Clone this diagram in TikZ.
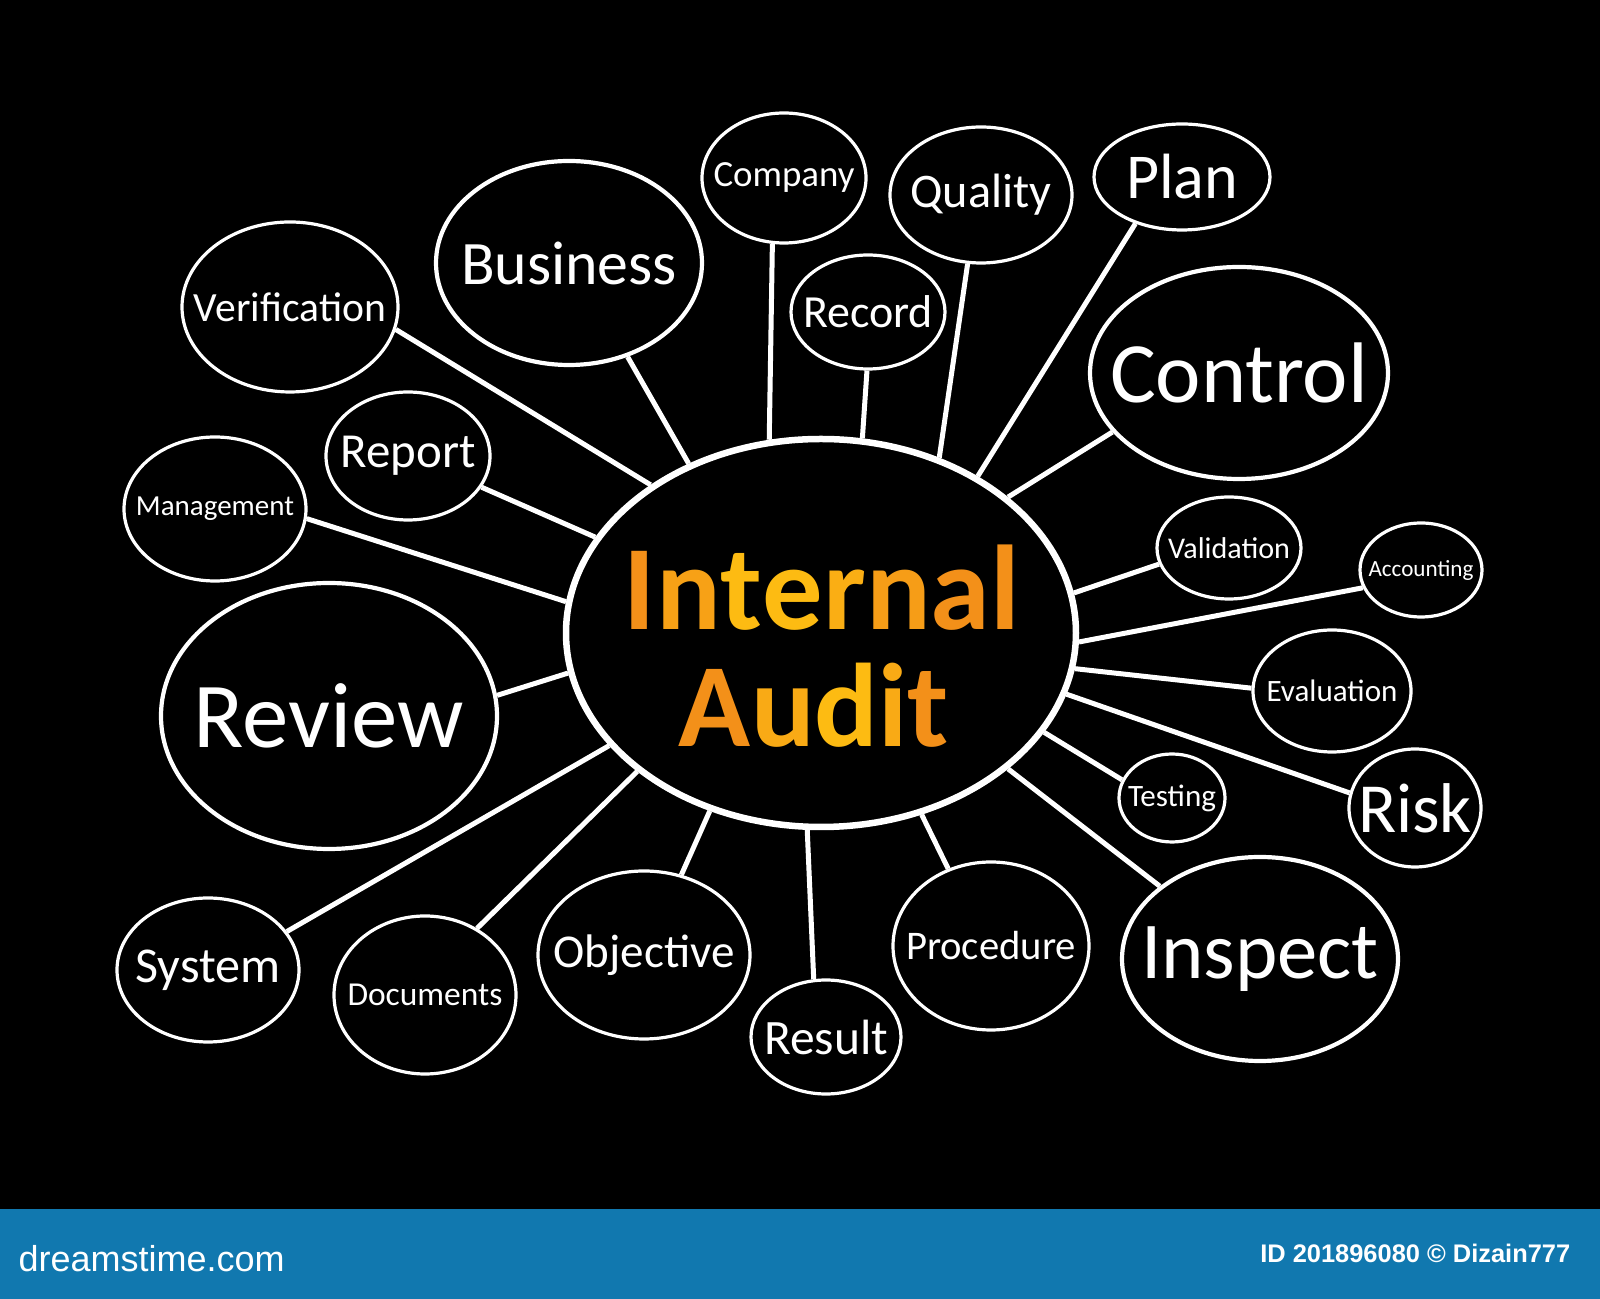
\documentclass[tikz,border=0pt]{standalone}
\usepackage{fontspec}
\setmainfont{Carlito}
\newfontfamily\barfont{Liberation Sans}
\usepackage{graphicx}
\usetikzlibrary{shapes.geometric}
\definecolor{barblue}{HTML}{1178AF}
\definecolor{ora}{HTML}{F39019}
\definecolor{yel}{HTML}{FDBB12}
\tikzset{
  bub/.style={ellipse, draw=white, line width=0.32mm, fill=black, inner sep=0pt},
  bigbub/.style={bub, line width=0.42mm},
  hub/.style={bub, line width=0.65mm},
  txt/.style={text=white, inner sep=0pt},
  link/.style={draw=white, line width=0.5mm},
}
\begin{document}
\begin{tikzpicture}[x=0.1mm, y=-0.1mm]
\useasboundingbox (0,0) rectangle (1600,1299);
\fill[black] (0,0) rectangle (1600,1209);
\fill[barblue] (0,1209) rectangle (1600,1299);

% hub
\node[hub, minimum width=51mm, minimum height=38.8mm] (c) at (821,633) {};

% outer bubbles
\node[bub, minimum width=21.6mm, minimum height=17mm] (verification) at (290,307) {};
\node[bigbub, minimum width=26.6mm, minimum height=20.4mm] (business) at (569,263) {};
\node[bub, minimum width=16.4mm, minimum height=13mm] (company) at (784,178) {};
\node[bub, minimum width=15.4mm, minimum height=11.4mm] (record) at (868,312) {};
\node[bub, minimum width=18.2mm, minimum height=13.6mm] (quality) at (981,195) {};
\node[bub, minimum width=17.6mm, minimum height=10.6mm] (plan) at (1182,177) {};
\node[bigbub, minimum width=29.8mm, minimum height=21.2mm] (control) at (1239,373) {};
\node[bub, minimum width=16.4mm, minimum height=12.8mm] (report) at (408,456) {};
\node[bub, minimum width=18.2mm, minimum height=14.4mm] (management) at (215,509) {};
\node[bigbub, minimum width=33.6mm, minimum height=26.6mm] (review) at (329,716) {};
\node[bub, minimum width=14.4mm, minimum height=10.2mm] (validation) at (1229,548) {};
\node[bub, minimum width=12.2mm, minimum height=9.4mm] (accounting) at (1421,570) {};
\node[bub, minimum width=15.8mm, minimum height=12.2mm] (evaluation) at (1332,691) {};
\node[bub, minimum width=10.6mm, minimum height=8.8mm] (testing) at (1172,798) {};
\node[bub, minimum width=13.2mm, minimum height=11.8mm] (risk) at (1415,808) {};
\node[bigbub, minimum width=27.6mm, minimum height=20.4mm] (inspect) at (1260,959) {};
\node[bub, minimum width=19.6mm, minimum height=16.8mm] (procedure) at (991,946) {};
\node[bub, minimum width=15mm, minimum height=11.4mm] (result) at (826,1037) {};
\node[bub, minimum width=21.2mm, minimum height=16.8mm] (objective) at (644,955) {};
\node[bub, minimum width=18.2mm, minimum height=15.8mm] (documents) at (425,995) {};
\node[bub, minimum width=18.2mm, minimum height=14.4mm] (system) at (208,970) {};

% connectors
\draw[link] (company.-100) -- (c.105);
\draw[link] (record.-91) -- (c.78);
\draw[link] (quality.-101) -- (c.56);
\draw[link] (plan.-135) -- (c.45);
\draw[link] (control.-155) -- (c.36);
\draw[link] (validation.-167) -- (c.9);
\draw[link] (accounting.-163) -- (c.-2);
\draw[link] (evaluation.178) -- (c.-8);
\draw[link] (risk.167) -- (c.-14);
\draw[link] (testing.160) -- (c.-24);
\draw[link] (inspect.144) -- (c.-36);
\draw[link] (procedure.119) -- (c.-61);
\draw[link] (result.102) -- (c.-94);
\draw[link] (objective.65) -- (c.-122);
\draw[link] (documents.52) -- (c.-143);
\draw[link] (system.26) -- (c.-152);
\draw[link] (review.7) -- (c.-171);
\draw[link] (management.-6) -- (c.173);
\draw[link] (report.-23) -- (c.157);
\draw[link] (verification.-12) -- (c.139);
\draw[link] (business.-58) -- (c.128);

% labels
\node[txt] (tverification) at (verification) {\resizebox{19.2mm}{!}{Verification}};
\node[txt] (tbusiness) at (business) {\resizebox{21.6mm}{!}{Business}};
\node[txt] (tcompany) at (company) {\resizebox{14.1mm}{!}{Company}};
\node[txt] (trecord) at (record) {\resizebox{13mm}{!}{Record}};
\node[txt] (tquality) at (quality) {\resizebox{14.1mm}{!}{Quality}};
\node[txt] (tplan) at (plan) {\resizebox{11.2mm}{!}{Plan}};
\node[txt] (tcontrol) at (control) {\resizebox{25.8mm}{!}{Control}};
\node[txt] (treport) at (report) {\resizebox{13.5mm}{!}{Report}};
\node[txt] (tmanagement) at (management) {\resizebox{15.8mm}{!}{Management}};
\node[txt] (treview) at (review) {\resizebox{27mm}{!}{Review}};
\node[txt] (tvalidation) at (validation) {\resizebox{12.2mm}{!}{Validation}};
\node[txt] (taccounting) at (accounting) {\resizebox{10.5mm}{!}{Accounting}};
\node[txt] (tevaluation) at (evaluation) {\resizebox{13.1mm}{!}{Evaluation}};
\node[txt] (ttesting) at (testing) {\resizebox{8.8mm}{!}{Testing}};
\node[txt] (trisk) at (risk) {\resizebox{11.4mm}{!}{Risk}};
\node[txt] (tinspect) at (inspect) {\resizebox{23.8mm}{!}{Inspect}};
\node[txt] (tprocedure) at (procedure) {\resizebox{17mm}{!}{Procedure}};
\node[txt] (tresult) at (result) {\resizebox{12.4mm}{!}{Result}};
\node[txt] (tobjective) at (objective) {\resizebox{18.1mm}{!}{Objective}};
\node[txt] (tdocuments) at (documents) {\resizebox{15.5mm}{!}{Documents}};
\node[txt] (tsystem) at (system) {\resizebox{14.5mm}{!}{System}};

% hub title
\node[inner sep=0pt] (tinternal) at (822,588) {\resizebox{39.6mm}{!}{\bfseries
  \textcolor{ora}{I}\textcolor{ora!60!yel}{n}\textcolor{yel}{t}\textcolor{yel}{e}%
  \textcolor{yel!70!ora}{r}\textcolor{ora!70!yel}{n}\textcolor{ora}{a}\textcolor{ora}{l}}};
\node[inner sep=0pt] (taudit) at (814,705) {\resizebox{27mm}{!}{\bfseries
  \textcolor{ora}{A}\textcolor{ora!40!yel}{u}\textcolor{yel}{d}\textcolor{yel!60!ora}{i}\textcolor{ora}{t}}};

% bottom bar
\node[txt, anchor=west] (site) at (18,1259) {\resizebox{26.6mm}{!}{\barfont dreamstime.com}};
\node[txt, anchor=east] (credit) at (1571,1253) {\resizebox{31mm}{!}{\barfont\bfseries ID 201896080 © Dizain777}};
\end{tikzpicture}
\end{document}
